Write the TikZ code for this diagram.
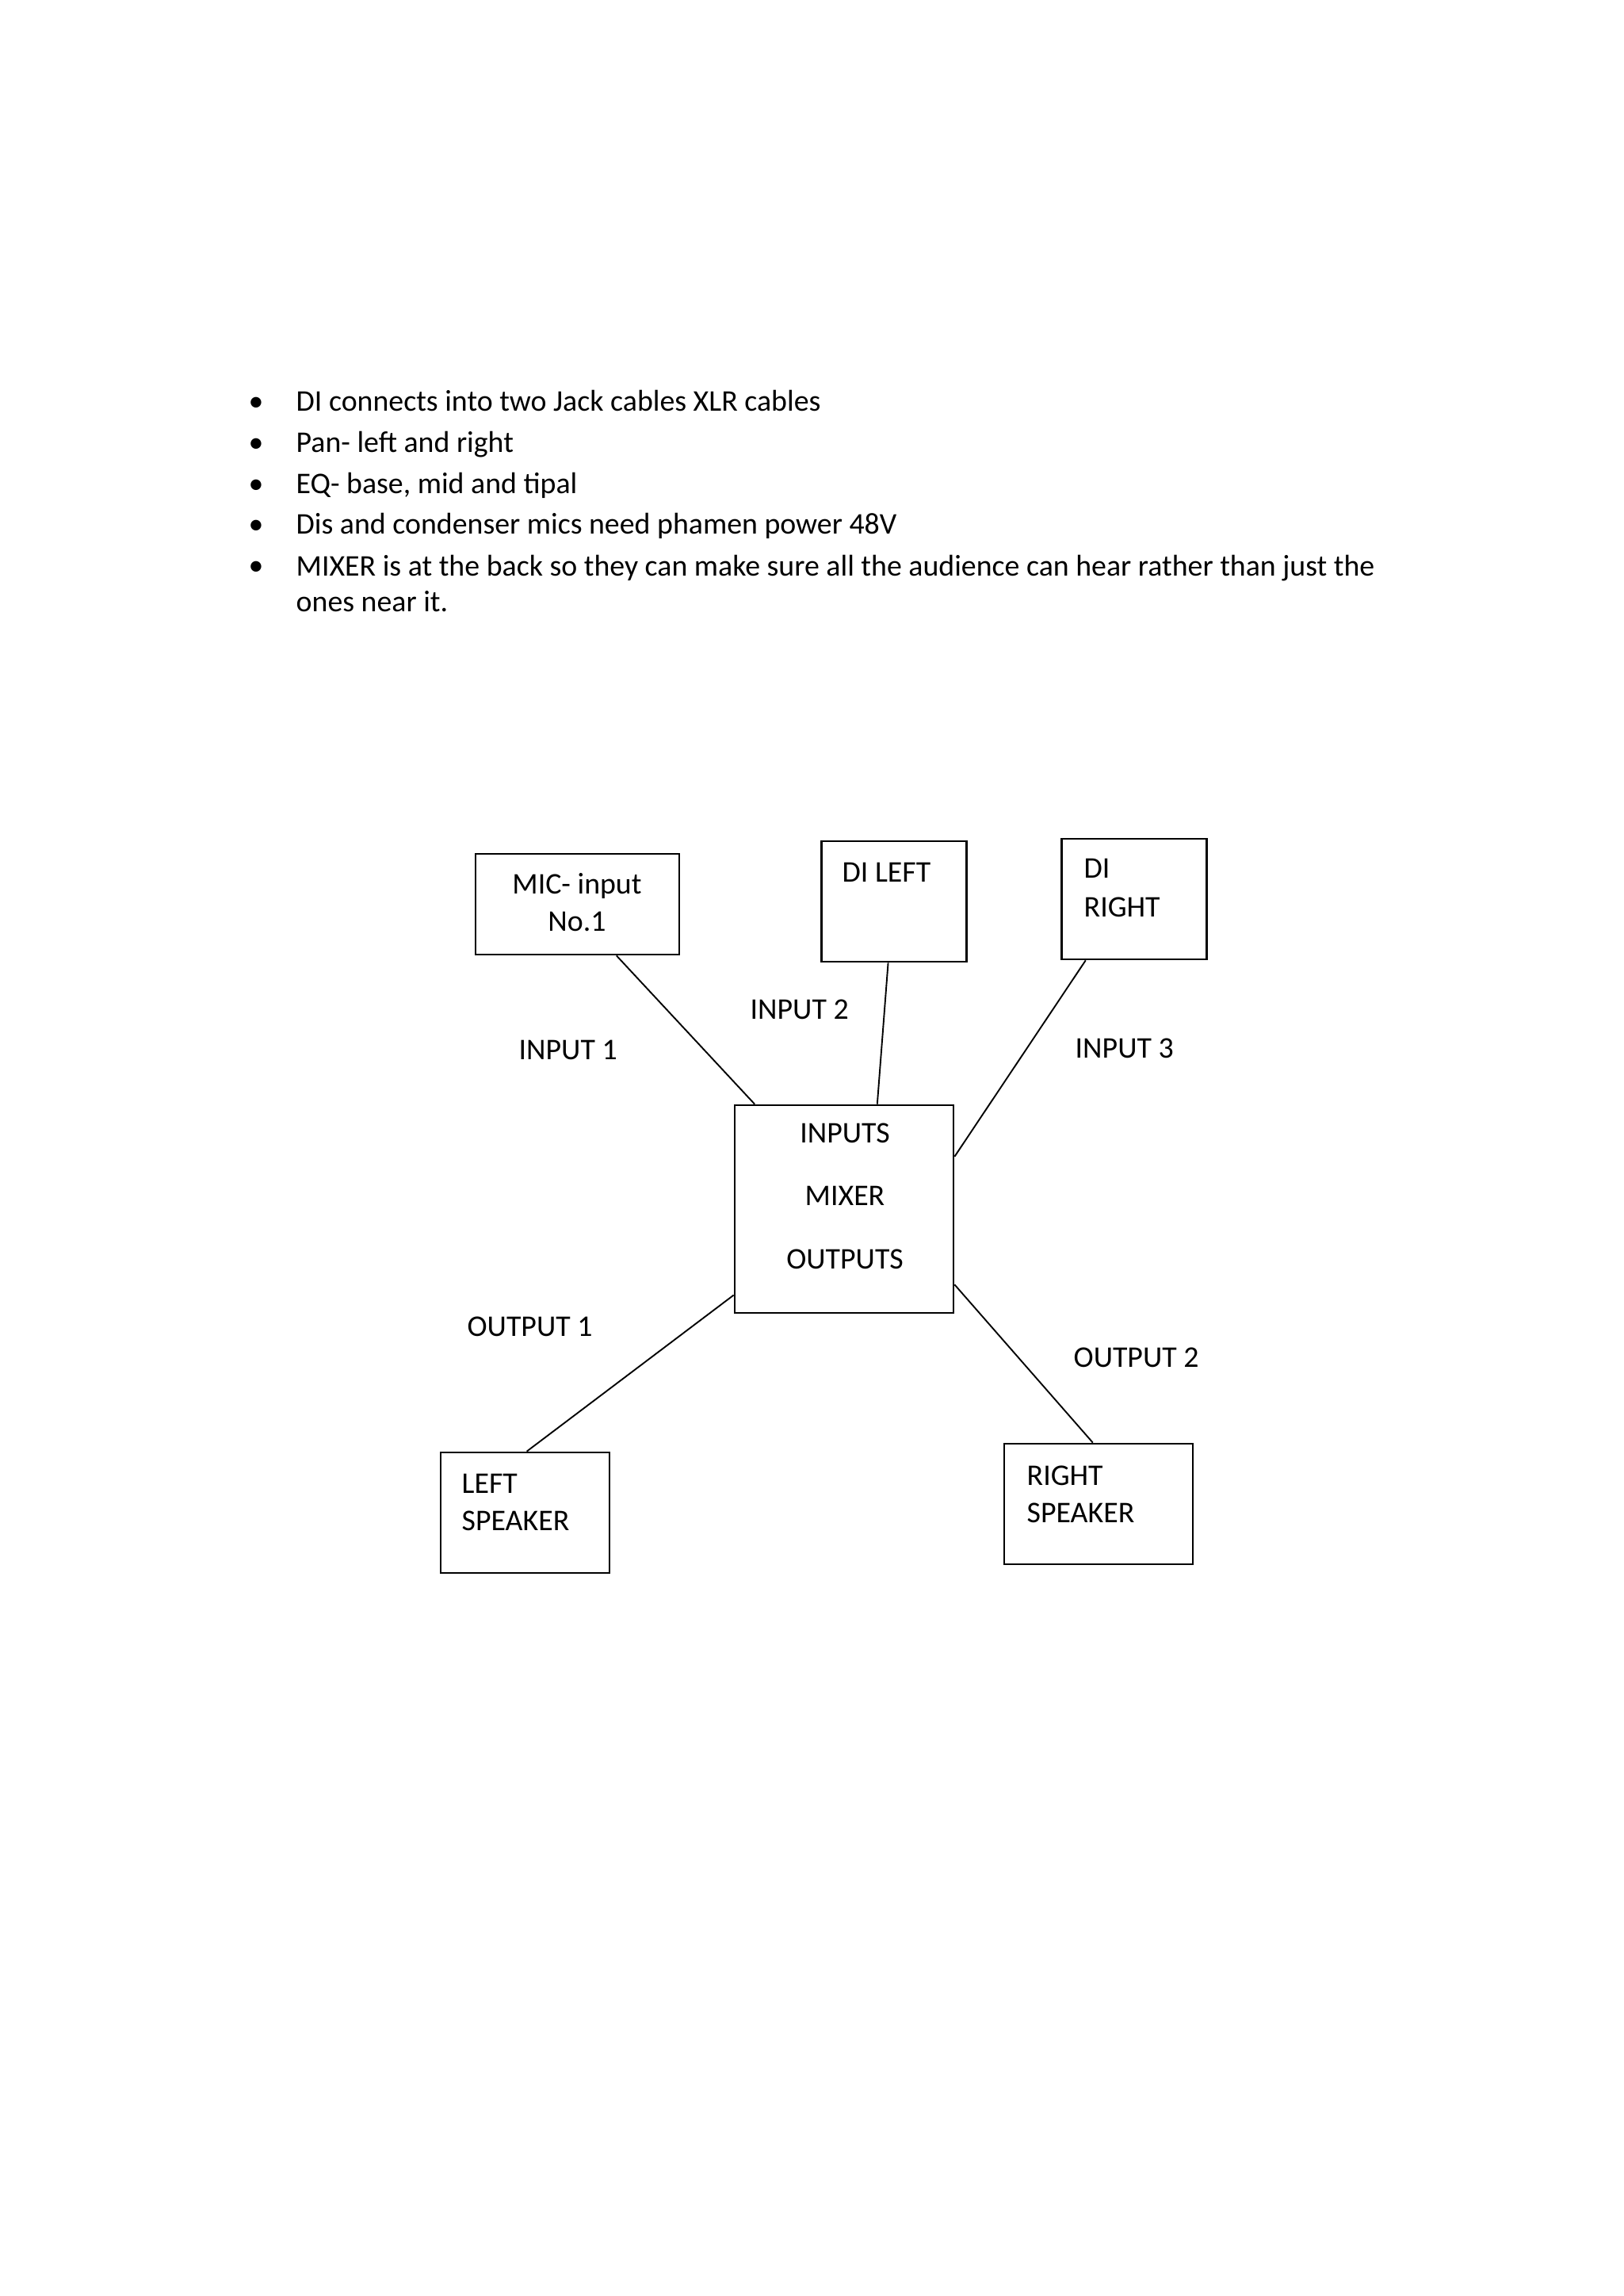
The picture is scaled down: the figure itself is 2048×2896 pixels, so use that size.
\documentclass[tikz,border=0pt]{standalone}
\usepackage{fontspec}
\setmainfont{Carlito}
\usetikzlibrary{calc}

\begin{document}
\begin{tikzpicture}[
  x=0.290664pt, y=-0.290664pt,
  every node/.style={font=\fontsize{11pt}{13.6pt}\selectfont},
  box/.style={draw, line width=0.8pt, inner sep=0pt},
  txt/.style={inner sep=0pt, anchor=base west, align=left},
  ctxt/.style={inner sep=0pt, anchor=base, align=center},
  dot/.style={inner sep=0pt, anchor=base},
  wire/.style={line width=0.55pt},
]

% --- page size (pixels of the page, y downwards) ---
\def\px{0.290664pt}
\path[fill=white] (0,0) rectangle (2048,2896);
\useasboundingbox (0,0) rectangle (2048,2896);

% =========================================================
% Notes (multi-line texts sit on their last baseline)
% =========================================================
\def\xb{323}
\def\xt{373}
\node[dot] (b1) at (\xb,518) {\textbullet};
\node[txt] (n1) at (\xt,518) {DI connects into two Jack cables XLR cables};
\node[dot] (b2) at (\xb,570) {\textbullet};
\node[txt] (n2) at (\xt,570) {Pan- left and right};
\node[dot] (b3) at (\xb,622) {\textbullet};
\node[txt] (n3) at (\xt,622) {EQ- base, mid and tipal};
\node[dot] (b4) at (\xb,673) {\textbullet};
\node[txt] (n4) at (\xt,673) {Dis and condenser mics need phamen power 48V};
\node[dot] (b5) at (\xb,725) {\textbullet};
\node[txt] (n5) at (\xt,771) {MIXER is at the back so they can make sure all the audience can hear rather than just the\\[-0.6pt]ones near it.};

% =========================================================
% Boxes
% =========================================================
\node[box, minimum width=257*\px, minimum height=127*\px] (mic)     at (728.5,1140.5) {};
\node[box, minimum width=183*\px, minimum height=152*\px] (dileft)  at (1128,1137) {};
\node[box, minimum width=183*\px, minimum height=152*\px] (diright) at (1431,1134) {};
\node[box, minimum width=276*\px, minimum height=262*\px] (mixer)   at (1065,1525) {};
\node[box, minimum width=213*\px, minimum height=152*\px] (lspk)    at (662.5,1908) {};
\node[box, minimum width=238*\px, minimum height=152*\px] (rspk)    at (1386,1897) {};

% --- box texts ---
\node[ctxt] (mic-t)     at (728,1174)  {MIC- input\\No.1};
\node[txt]  (dileft-t)  at (1062,1112) {DI LEFT};
\node[txt]  (diright-t) at (1367,1156) {DI\\[0.6pt]RIGHT};
\node[ctxt] (mixer-t)   at (1066,1600) {INPUTS\\[9.2pt]MIXER\\[9.6pt]OUTPUTS};
\node[txt]  (lspk-t)    at (582,1930)  {LEFT\\SPEAKER};
\node[txt]  (rspk-t)    at (1295,1920) {RIGHT\\SPEAKER};

% =========================================================
% Connections
% =========================================================
\draw[wire] ($(mic.south west)!0.69!(mic.south east)$)
  -- ($(mixer.north west)!0.095!(mixer.north east)$);
\draw[wire] ($(dileft.south west)!0.46!(dileft.south east)$)
  -- ($(mixer.north west)!0.65!(mixer.north east)$);
\draw[wire] ($(diright.south west)!0.17!(diright.south east)$)
  -- ($(mixer.north east)!0.25!(mixer.south east)$);
\draw[wire] ($(mixer.north west)!0.91!(mixer.south west)$)
  -- ($(lspk.north west)!0.51!(lspk.north east)$);
\draw[wire] ($(mixer.north east)!0.86!(mixer.south east)$)
  -- ($(rspk.north west)!0.47!(rspk.north east)$);

% --- labels ---
\node[txt] (in1)  at (654,1336)  {INPUT 1};
\node[txt] (in2)  at (946,1285)  {INPUT 2};
\node[txt] (in3)  at (1356,1334) {INPUT 3};
\node[txt] (out1) at (589,1685)  {OUTPUT 1};
\node[txt] (out2) at (1354,1724) {OUTPUT 2};

\end{tikzpicture}
\end{document}
